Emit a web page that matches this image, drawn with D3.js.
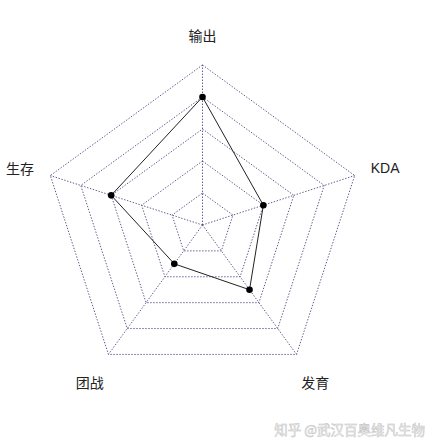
<!DOCTYPE html>
<html>
<head>
<meta charset="utf-8">
<script src="https://cdn.jsdelivr.net/npm/d3@7"></script>
<style>
  body { margin: 0; background: #fff; }
  svg text { font-family: "Noto Sans CJK SC", "Liberation Sans", sans-serif; }
</style>
</head>
<body>
<div id="radar-chart"></div>
<script>
// axis names, clockwise from the top
const axes = ["输出", "KDA", "发育", "团战", "生存"];
// score on each axis
const values = [8, 4, 5, 3, 6];
// grid rings
const levels = [2, 4, 6, 8, 10];
const maxValue = 10;
const labelValue = 12; // labels sit a bit outside the outer ring

const width = 436;
const height = 448;
const center = { x: 202.5, y: 225 };
const radius = 160;

const rScale = d3.scaleLinear().domain([0, maxValue]).range([0, radius]);
const angle = (i) => (i * 2 * Math.PI) / axes.length;

// point on axis i at value v (angle 0 = 12 o'clock, clockwise)
const pos = (i, v) => [
  center.x + rScale(v) * Math.sin(angle(i)),
  center.y - rScale(v) * Math.cos(angle(i)),
];

const svg = d3
  .select("#radar-chart")
  .append("svg")
  .attr("width", width)
  .attr("height", height);

const chart = svg.append("g").attr("transform", `translate(${center.x},${center.y})`);

const gridColor = "#4a4a80";
const dash = "1.4,1.6";

// dotted rings
const ring = d3
  .lineRadial()
  .angle((d, i) => angle(i))
  .radius((d) => rScale(d))
  .curve(d3.curveLinearClosed);

chart
  .selectAll(".grid-ring")
  .data(levels)
  .enter()
  .append("path")
  .attr("class", "grid-ring")
  .attr("d", (lv) => ring(axes.map(() => lv)))
  .attr("fill", "none")
  .attr("stroke", gridColor)
  .attr("stroke-width", 0.9)
  .attr("stroke-dasharray", dash);

// dotted spokes
chart
  .selectAll(".spoke")
  .data(axes)
  .enter()
  .append("line")
  .attr("class", "spoke")
  .attr("x1", 0)
  .attr("y1", 0)
  .attr("x2", (d, i) => rScale(maxValue) * Math.sin(angle(i)))
  .attr("y2", (d, i) => -rScale(maxValue) * Math.cos(angle(i)))
  .attr("stroke", gridColor)
  .attr("stroke-width", 0.9)
  .attr("stroke-dasharray", dash);

// data polygon
chart
  .append("path")
  .datum(values)
  .attr("d", ring)
  .attr("fill", "none")
  .attr("stroke", "#222")
  .attr("stroke-width", 1);

chart
  .selectAll(".dot")
  .data(values)
  .enter()
  .append("circle")
  .attr("class", "dot")
  .attr("cx", (d, i) => rScale(d) * Math.sin(angle(i)))
  .attr("cy", (d, i) => -rScale(d) * Math.cos(angle(i)))
  .attr("r", 3.3)
  .attr("fill", "#000");

// axis labels
svg
  .selectAll(".axis-label")
  .data(axes)
  .enter()
  .append("text")
  .attr("class", "axis-label")
  .attr("x", (d, i) => pos(i, labelValue)[0])
  .attr("y", (d, i) => pos(i, labelValue)[1] + 2)
  .attr("text-anchor", "middle")
  .attr("dominant-baseline", "central")
  .style("font-size", "14px")
  .style("font-family", (d) => (d === "KDA" ? "Liberation Sans, sans-serif" : null))
  .attr("fill", "#222")
  .text((d) => d);

// watermark
svg
  .append("text")
  .attr("x", 425)
  .attr("y", 429)
  .attr("text-anchor", "end")
  .attr("dominant-baseline", "central")
  .style("font-size", "13.5px")
  .attr("fill", "#fafafa")
  .attr("stroke", "#c2c2c2")
  .attr("stroke-width", 0.5)
  .text("知乎 @武汉百奥维凡生物");
</script>
</body>
</html>
